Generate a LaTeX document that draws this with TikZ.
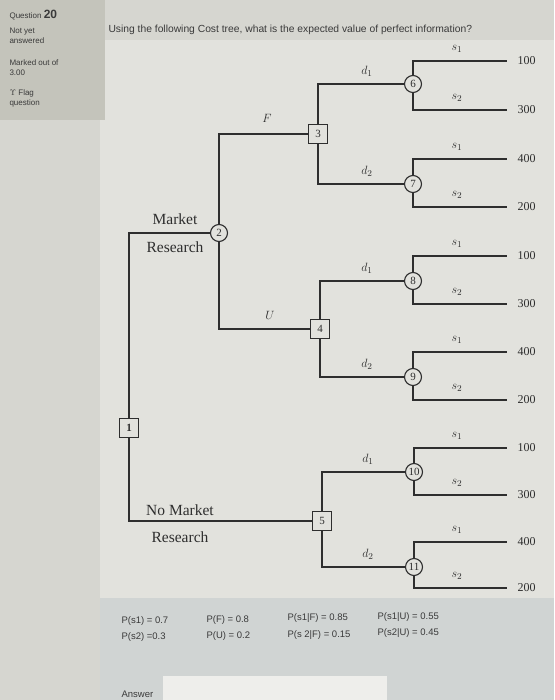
\documentclass[tikz,border=0pt]{standalone}
\usepackage{fontspec}
\setmainfont{Liberation Serif}
\newfontfamily\uisans{Liberation Sans}
\definecolor{pagebg}{HTML}{D6D6D0}
\definecolor{sidebg}{HTML}{C4C4BB}
\definecolor{figbg}{HTML}{E2E2DD}
\definecolor{lowbg}{HTML}{D0D4D3}
\definecolor{ink}{HTML}{2E2E2E}
\definecolor{uiink}{HTML}{3A3A3A}
\begin{document}
\begin{tikzpicture}[x=1pt,y=-1pt,
  line/.style={draw=ink,line width=1.1pt},
  decbox/.style={draw=ink,line width=1.1pt,fill=figbg,minimum size=19pt,inner sep=0pt,font=\fontsize{11}{11}\selectfont,text=ink},
  chance/.style={circle,draw=ink,line width=1.1pt,fill=figbg,minimum size=17pt,inner sep=0pt,font=\fontsize{11}{11}\selectfont,text=ink},
  payoff/.style={anchor=west,font=\fontsize{12}{12}\selectfont,text=ink},
  blab/.style={font=\fontsize{12.5}{12}\selectfont,text=ink},
  mlab/.style={font=\fontsize{15.5}{15}\selectfont,text=ink},
  ui/.style={font=\uisans\fontsize{8}{10}\selectfont,text=uiink,anchor=west},
  prob/.style={font=\uisans\fontsize{9.5}{10}\selectfont,text=uiink,anchor=west}]
\useasboundingbox (0,0) rectangle (554,700);
\fill[pagebg] (0,0) rectangle (554,700);
\fill[figbg] (100,40) rectangle (554,598);
\fill[lowbg] (100,598) rectangle (554,700);
\fill[sidebg] (0,0) rectangle (105,120);
% sidebar
\node[ui] (q) at (6,15) {Question \textbf{\fontsize{12}{12}\selectfont 20}};
\node[ui,align=left] (ny) at (6,36) {Not yet\\answered};
\node[ui,align=left] (mk) at (6,68) {Marked out of\\3.00};
\node[ui,align=left] (fl) at (6,98) {\textcolor{uiink}{$\Upsilon$} Flag\\question};
% question
\node[anchor=west,font=\uisans\fontsize{10.3}{11}\selectfont,text=uiink] (qt) at (105,30) {Using the following Cost tree, what is the expected value of perfect information?};
% nodes
\node[decbox,font=\bfseries\fontsize{11}{11}\selectfont] (n1) at (129,428) {1};
\node[chance] (n2) at (219,233) {2};
\node[decbox] (n3) at (318,134) {3};
\node[decbox] (n4) at (320,329) {4};
\node[decbox] (n5) at (322,521) {5};
\node[chance] (n6) at (413,84) {6};
\node[chance] (n7) at (413,184) {7};
\node[chance] (n8) at (413,281) {8};
\node[chance] (n9) at (413,377) {9};
\node[chance] (n10) at (414,472) {10};
\node[chance] (n11) at (414,567) {11};
% end points
\foreach \n/\ya/\yb in {6/61/110,7/159/207,8/256/304,9/352/400,10/448/495,11/542/588}{
  \coordinate (a\n) at (507,\ya);
  \coordinate (b\n) at (507,\yb);
}
% connectors
\draw[line] (n1) |- (n2);
\draw[line] (n1) |- (n5);
\draw[line] (n2) |- (n3);
\draw[line] (n2) |- (n4);
\draw[line] (n3) |- (n6);
\draw[line] (n3) |- (n7);
\draw[line] (n4) |- (n8);
\draw[line] (n4) |- (n9);
\draw[line] (n5) |- (n10);
\draw[line] (n5) |- (n11);
\foreach \n in {6,7,8,9,10,11}{
  \draw[line] (n\n) |- (a\n);
  \draw[line] (n\n) |- (b\n);
}
% payoffs
\foreach \n/\p/\q in {6/100/300,7/400/200,8/100/300,9/400/200,10/100/300,11/400/200}{
  \node[payoff] (pa\n) at ([xshift=7pt]a\n) {\p};
  \node[payoff] (pb\n) at ([xshift=7pt]b\n) {\q};
  \node[blab] (sa\n) at ([xshift=-50pt,yshift=12pt]a\n) {$s_1$};
  \node[blab] (sb\n) at ([xshift=-50pt,yshift=12pt]b\n) {$s_2$};
}
% decision labels
\foreach \n/\m in {3/6,4/8,5/10}{
  \node[blab] (d1\n) at ([xshift=-46pt,yshift=13pt]n\m) {$d_1$};
}
\foreach \n/\m in {3/7,4/9,5/11}{
  \node[blab] (d2\n) at ([xshift=-46pt,yshift=13pt]n\m) {$d_2$};
}
\node[blab] (lf) at (267,118) {$F$};
\node[blab] (lu) at (270,315) {$U$};
\node[mlab] (mr1) at (175,219) {Market};
\node[mlab] (mr2) at (175,247) {Research};
\node[mlab] (nm1) at (180,510) {No Market};
\node[mlab] (nm2) at (180,537) {Research};
% probabilities
\node[prob] (p1) at (118,621) {P(s1) = 0.7};
\node[prob] (p2) at (118,637) {P(s2) =0.3};
\node[prob] (p3) at (203,620) {P(F) = 0.8};
\node[prob] (p4) at (203,636) {P(U) = 0.2};
\node[prob] (p5) at (284,618) {P(s1|F) = 0.85};
\node[prob] (p6) at (284,635) {P(s 2|F) = 0.15};
\node[prob] (p7) at (374,617) {P(s1|U) = 0.55};
\node[prob] (p8) at (374,633) {P(s2|U) = 0.45};
% answer
\node[prob] (ans) at (118,694) {Answer};
\fill[figbg!60!white] (163,676) rectangle (387,700);
\end{tikzpicture}
\end{document}
